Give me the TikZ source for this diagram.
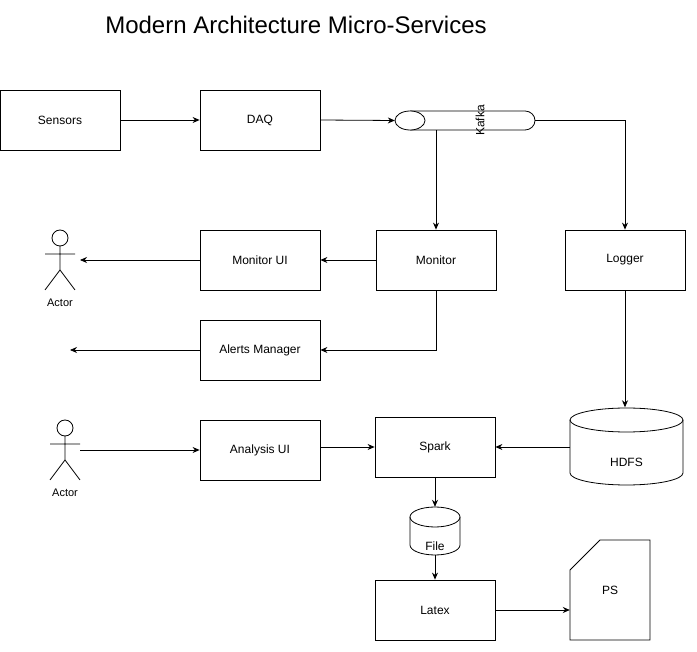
\documentclass[tikz,border=0pt]{standalone}
\usepackage{fontspec}
\setmainfont{Liberation Sans}
\usetikzlibrary{arrows.meta}
\begin{document}
\begin{tikzpicture}[x=1pt,y=-1pt,
  box/.style={draw,thick,minimum width=120pt,minimum height=60pt,inner sep=0pt,font=\fontsize{12}{14}\selectfont},
  arr/.style={draw,thick,-{Stealth[length=7pt,width=6pt]}},
  lbl/.style={font=\fontsize{12}{14}\selectfont}]
\useasboundingbox (0,0) rectangle (697,652);
\node[font=\fontsize{24}{27}\selectfont] (title) at (296,25) {Modern Architecture Micro-Services};
\node[box] (sensors) at (60,120) {Sensors};
\node[box] (daq) at (260,120) {DAQ};
\node[box] (monitor) at (436,260) {Monitor};
\node[box] (monui) at (260,260) {Monitor UI};
\node[box] (logger) at (625,260) {Logger};
\node[box] (alerts) at (260,350) {Alerts Manager};
\node[box] (spark) at (435,447) {Spark};
\node[box] (anui) at (260,450) {Analysis UI};
\node[box] (latex) at (435,610) {Latex};
% Kafka
\draw[thick] (410,111) -- (525,111) arc[start angle=270,end angle=450,x radius=10,y radius=9.5] -- (410,130);
\draw[thick,fill=white] (410,120.5) ellipse[x radius=15,y radius=9.5];
\node[rotate=90,lbl,inner sep=0pt] at (480,120.5) {Kafka};
\node[inner sep=0pt,minimum width=140pt,minimum height=19pt] (kafka) at (465,120.5) {};
% HDFS
\draw[thick] (570,420) -- (570,473) arc[start angle=180,end angle=0,x radius=56.5,y radius=12] -- (683,420);
\draw[thick] (626.5,420) ellipse[x radius=56.5,y radius=12];
\node[inner sep=0pt,minimum width=113pt,minimum height=78pt] (hdfs) at (626.5,446.5) {};
\node[lbl] at (626.5,462) {HDFS};
% File
\draw[thick] (410,517) -- (410,545) arc[start angle=180,end angle=0,x radius=25,y radius=10] -- (460,517);
\draw[thick] (435,517) ellipse[x radius=25,y radius=10];
\node[inner sep=0pt,minimum width=50pt,minimum height=48pt] (file) at (435,531) {};
\node[lbl] at (435,546) {File};
% PS
\draw[thick] (600,540) -- (650,540) -- (650,640) -- (570,640) -- (570,570) -- cycle;
\node[inner sep=0pt,minimum width=80pt,minimum height=100pt] (ps) at (610,590) {};
\node[lbl] at (610,590) {PS};
% actors
\foreach \n/\cx/\cy in {a1/60/238,a2/65/428}{
  \draw[thick] (\cx,\cy) circle[radius=8];
  \draw[thick] (\cx,\cy+8) -- (\cx,\cy+32) (\cx-15,\cy+16) -- (\cx+15,\cy+16)
    (\cx-15,\cy+52) -- (\cx,\cy+32) -- (\cx+15,\cy+52);
}
\node[lbl,font=\fontsize{11}{13}\selectfont] (actor1) at (60,303) {Actor};
\node[lbl,font=\fontsize{11}{13}\selectfont] (actor2) at (65,493) {Actor};
\coordinate (a1r) at (80,260);
\coordinate (a2r) at (80,450);
\coordinate (alend) at (70,350);
% connectors
\draw[arr] (sensors) -- (daq);
\draw[arr] (daq.east) -- (kafka.west);
\draw[arr] (kafka.south -| monitor.north) -- (monitor.north);
\draw[arr] (kafka.east) -| (logger.north);
\draw[arr] (monitor) -- (monui);
\draw[arr] (monui) -- (a1r);
\draw[arr] (monitor.south) |- (alerts.east);
\draw[arr] (alerts) -- (alend);
\draw[arr] (logger.south) -- (logger.south |- hdfs.north);
\draw[arr] (hdfs.west |- spark.east) -- (spark.east);
\draw[arr] (anui.east |- spark.west) -- (spark.west);
\draw[arr] (a2r) -- (anui.west);
\draw[arr] (spark.south) -- (file.north);
\draw[arr] (file.south) -- (latex.north);
\draw[arr] (latex.east) -- (latex.east -| ps.west);
\end{tikzpicture}
\end{document}
